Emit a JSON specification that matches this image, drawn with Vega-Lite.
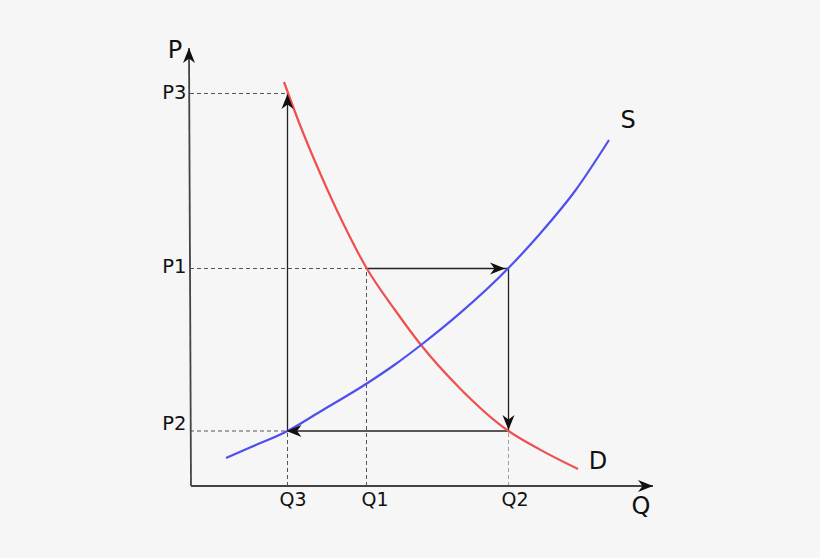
{
  "$schema": "https://vega.github.io/schema/vega-lite/v6.json",
  "width": 820,
  "height": 558,
  "autosize": {"type": "fit", "contains": "padding"},
  "padding": 0,
  "background": "#f6f6f6",
  "config": {"view": {"stroke": null}},
  "datasets": {
    "curves": [
      {"curve": "D", "q": 94, "p": 404},
      {"curve": "D", "q": 110, "p": 361},
      {"curve": "D", "q": 130, "p": 313},
      {"curve": "D", "q": 153, "p": 263},
      {"curve": "D", "q": 176.5, "p": 218},
      {"curve": "D", "q": 205, "p": 176},
      {"curve": "D", "q": 231, "p": 141},
      {"curve": "D", "q": 270, "p": 97.6},
      {"curve": "D", "q": 318.5, "p": 55},
      {"curve": "D", "q": 350, "p": 36.4},
      {"curve": "D", "q": 388, "p": 17},
      {"curve": "S", "q": 36, "p": 28},
      {"curve": "S", "q": 60, "p": 38.5},
      {"curve": "S", "q": 97.5, "p": 55},
      {"curve": "S", "q": 130, "p": 74.3},
      {"curve": "S", "q": 176, "p": 102},
      {"curve": "S", "q": 205, "p": 121.5},
      {"curve": "S", "q": 231, "p": 141},
      {"curve": "S", "q": 270, "p": 172.8},
      {"curve": "S", "q": 318.5, "p": 218},
      {"curve": "S", "q": 350, "p": 252.3},
      {"curve": "S", "q": 385, "p": 295},
      {"curve": "S", "q": 419, "p": 346}
    ],
    "guides": [
      {"guide": "P3", "q": 0, "q2": 97.5, "p": 392.5, "p2": 392.5},
      {"guide": "P1", "q": 0, "q2": 176.5, "p": 217.5, "p2": 217.5},
      {"guide": "P2", "q": 0, "q2": 97.5, "p": 55, "p2": 55},
      {"guide": "Q3", "q": 97.5, "q2": 97.5, "p": 0, "p2": 55},
      {"guide": "Q1", "q": 176.5, "q2": 176.5, "p": 0, "p2": 217.5},
      {"guide": "Q2", "q": 318.5, "q2": 318.5, "p": 0, "p2": 55}
    ],
    "flows": [
      {"step": 1, "q": 97.5, "q2": 97.5, "p": 55, "p2": 392.5},
      {"step": 2, "q": 176.5, "q2": 318.5, "p": 217.5, "p2": 217.5},
      {"step": 3, "q": 318.5, "q2": 318.5, "p": 217.5, "p2": 55},
      {"step": 4, "q": 318.5, "q2": 97.5, "p": 55, "p2": 55}
    ],
    "axes": [
      {"axis": "Q", "q": 1, "q2": 463, "p": 0, "p2": 0},
      {"axis": "P", "q": 1, "q2": -1, "p": 0, "p2": 438}
    ],
    "heads": [
      {"q": 97.5, "p": 392, "heading": 0},
      {"q": 315, "p": 217.5, "heading": 90},
      {"q": 318.5, "p": 56, "heading": 180},
      {"q": 96.5, "p": 55, "heading": 270},
      {"q": -1, "p": 438, "heading": 0},
      {"q": 463, "p": 0, "heading": 90}
    ],
    "plabels": [
      {"label": "P3", "q": -3.5, "p": 393},
      {"label": "P1", "q": -3.5, "p": 219.5},
      {"label": "P2", "q": -3.5, "p": 62}
    ],
    "qlabels": [
      {"label": "Q3", "q": 103, "p": -13.5},
      {"label": "Q1", "q": 185, "p": -13.5},
      {"label": "Q2", "q": 325, "p": -13.5}
    ],
    "biglabels": [
      {"label": "P", "q": -15, "p": 435},
      {"label": "Q", "q": 451, "p": -21},
      {"label": "S", "q": 438, "p": 365},
      {"label": "D", "q": 408, "p": 24}
    ]
  },
  "encoding": {
    "x": {"field": "q", "type": "quantitative", "scale": {"domain": [-190, 630], "nice": false, "zero": false}, "axis": null},
    "y": {"field": "p", "type": "quantitative", "scale": {"domain": [-72, 486], "nice": false, "zero": false}, "axis": null}
  },
  "layer": [
    {
      "data": {"name": "guides"},
      "mark": {"type": "rule", "strokeWidth": 1, "strokeDash": [4, 3]},
      "encoding": {
        "x2": {"field": "q2"},
        "y2": {"field": "p2"},
        "color": {"field": "guide", "type": "nominal", "scale": {"domain": ["P3", "P1", "P2", "Q3", "Q1", "Q2"], "range": ["#555555", "#555555", "#555555", "#555555", "#555555", "#a0a0a0"]}, "legend": null}
      }
    },
    {
      "data": {"name": "axes"},
      "mark": {"type": "rule", "strokeWidth": 1.8, "color": "#444444"},
      "encoding": {"x2": {"field": "q2"}, "y2": {"field": "p2"}}
    },
    {
      "data": {"name": "flows"},
      "mark": {"type": "rule", "strokeWidth": 1.3, "color": "#222222"},
      "encoding": {"x2": {"field": "q2"}, "y2": {"field": "p2"}}
    },
    {
      "data": {"name": "curves"},
      "mark": {"type": "line", "strokeWidth": 2.2, "interpolate": "monotone"},
      "encoding": {
        "color": {"field": "curve", "type": "nominal", "scale": {"domain": ["D", "S"], "range": ["#ef4f4f", "#4f4fee"]}, "legend": null}
      }
    },
    {
      "data": {"name": "heads"},
      "mark": {"type": "point", "shape": "M0,0 L-0.8,2 L0,1.4 L0.8,2 Z", "filled": true, "size": 225, "color": "#111111", "opacity": 1, "strokeWidth": 0},
      "encoding": {
        "angle": {"field": "heading", "type": "quantitative", "scale": {"domain": [0, 360], "range": [0, 360]}}
      }
    },
    {
      "data": {"name": "plabels"},
      "mark": {"type": "text", "font": "DejaVu Sans", "fontSize": 19.5, "align": "right", "baseline": "middle", "color": "#111111"},
      "encoding": {"text": {"field": "label"}}
    },
    {
      "data": {"name": "qlabels"},
      "mark": {"type": "text", "font": "DejaVu Sans", "fontSize": 19, "align": "center", "baseline": "middle", "color": "#111111"},
      "encoding": {"text": {"field": "label"}}
    },
    {
      "data": {"name": "biglabels"},
      "mark": {"type": "text", "font": "DejaVu Sans", "fontSize": 24, "align": "center", "baseline": "middle", "color": "#111111"},
      "encoding": {"text": {"field": "label"}}
    }
  ],
  "resolve": {"scale": {"color": "independent"}}
}
